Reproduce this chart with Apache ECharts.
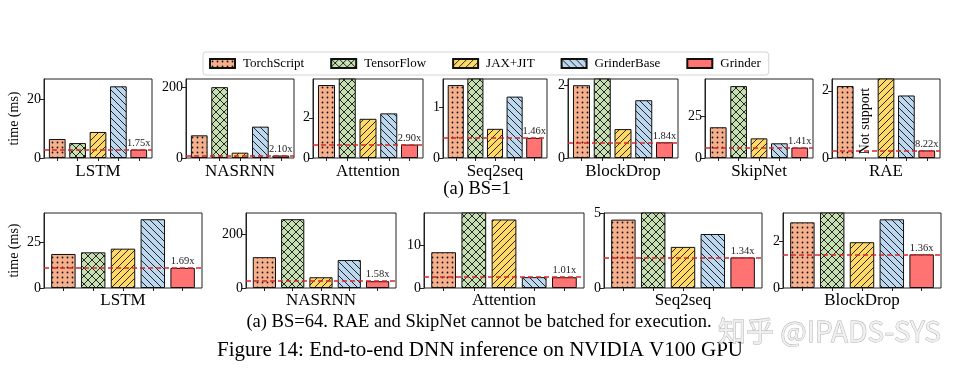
<!DOCTYPE html>
<html>
<head>
<meta charset="utf-8">
<script src="https://cdn.jsdelivr.net/npm/echarts@6/dist/echarts.min.js"></script>
<style>html,body{margin:0;padding:0;background:#fff;}#c{width:978px;height:373px;}</style>
</head>
<body>
<div id="c"></div>
<script>
// ---------- data ----------
const systems = ['TorchScript', 'TensorFlow', 'JAX+JIT', 'GrinderBase', 'Grinder'];

const bs1Models = ['LSTM', 'NASRNN', 'Attention', 'Seq2seq', 'BlockDrop', 'SkipNet', 'RAE'];
const bs1TorchScript = [6.5, 64, 3.63, 1.45, 1.99, 18.6, 2.14];
const bs1TensorFlow = [5.1, 200, 4.6, 1.9, 2.6, 43.5, null];
const bs1JaxJit = [8.9, 15, 1.95, 0.58, 0.79, 11.9, 2.8];
const bs1GrinderBase = [24.5, 88.5, 2.22, 1.22, 1.58, 8.9, 1.86];
const bs1Grinder = [2.9, 7.1, 0.67, 0.40, 0.43, 6.3, 0.226];
const bs1Speedup = ['1.75x', '2.10x', '2.90x', '1.46x', '1.84x', '1.41x', '8.22x'];
const bs1YMax = [27, 223, 3.93, 1.57, 2.16, 47.8, 2.35];
const bs1YTicks = [[0, 20], [0, 200], [0, 2], [0, 1], [0, 2], [0, 25], [0, 2]];

const bs64Models = ['LSTM', 'NASRNN', 'Attention', 'Seq2seq', 'BlockDrop'];
const bs64TorchScript = [18.6, 114.7, 8.3, 4.56, 2.81];
const bs64TensorFlow = [19.5, 256, 21, 6, 3.8];
const bs64JaxJit = [21.5, 40, 15.9, 2.74, 1.96];
const bs64GrinderBase = [37.6, 104, 2.52, 3.6, 2.94];
const bs64Grinder = [11.0, 25.3, 2.5, 2.04, 1.44];
const bs64Speedup = ['1.69x', '1.58x', '1.01x', '1.34x', '1.36x'];
const bs64YMax = [41, 279, 17.4, 5, 3.21];
const bs64YTicks = [[0, 25], [0, 200], [0, 10], [0, 5], [0, 2]];

// ---------- layout ----------
const topLefts = [44, 186, 313, 443, 568, 705, 832];
const topWidths = [108, 108, 110, 104, 110, 108, 108];
const topTop = 79, topHeight = 79;
const botLefts = [44, 246, 424, 604, 783];
const botWidths = [158, 150, 160, 158, 158];
const botTop = 213, botHeight = 75;

const SERIF = 'Liberation Serif';

function makePattern(bg, kind) {
  const s = kind === 'dots' ? 5 : (kind === 'cross' ? 8 : 7);
  const c = document.createElement('canvas');
  c.width = s; c.height = s;
  const g = c.getContext('2d');
  g.fillStyle = bg; g.fillRect(0, 0, s, s);
  g.strokeStyle = '#111'; g.lineWidth = 0.9;
  if (kind === 'dots') {
    g.fillStyle = '#111';
    g.beginPath(); g.arc(s / 2, s / 2, 0.9, 0, Math.PI * 2); g.fill();
  }
  if (kind === 'slash' || kind === 'cross') {
    for (const k of [-s, 0, s]) { g.beginPath(); g.moveTo(k, s); g.lineTo(k + s, 0); g.stroke(); }
  }
  if (kind === 'back' || kind === 'cross') {
    for (const k of [-s, 0, s]) { g.beginPath(); g.moveTo(k, 0); g.lineTo(k + s, s); g.stroke(); }
  }
  return { image: c, repeat: 'repeat' };
}
const fills = [
  makePattern('#f6b08c', 'dots'),
  makePattern('#c6e0b4', 'cross'),
  makePattern('#ffd966', 'slash'),
  makePattern('#bdd7ee', 'back'),
  '#ff7373'
];

const grids = [], xAxes = [], yAxes = [], series = [];

function addPanel(model, vals, speedup, ymax, ticks, left, width, top, height, showYName, nameGap, extra) {
  const idx = grids.length;
  grids.push({ left: left, top: top, width: width, height: height, show: true, borderColor: '#222', borderWidth: 1, containLabel: false });
  xAxes.push({
    type: 'value', gridIndex: idx, min: -0.65, max: 4.65,
    axisLine: { show: false, onZero: false },
    axisTick: { show: true, customValues: [0, 1, 2, 3, 4], length: 3, inside: false, lineStyle: { color: '#222' } },
    axisLabel: { show: false },
    splitLine: { show: false },
    name: model, nameLocation: 'middle', nameGap: nameGap,
    nameTextStyle: { fontFamily: SERIF, fontSize: 17, color: '#000' }
  });
  yAxes.push({
    type: 'value', gridIndex: idx, min: 0, max: ymax,
    axisLine: { show: true, onZero: false, lineStyle: { color: '#222' } },
    axisTick: { show: true, customValues: ticks, length: 4, lineStyle: { color: '#222' } },
    axisLabel: { customValues: ticks, fontFamily: SERIF, fontSize: 14, color: '#000', margin: 3 },
    splitLine: { show: false },
    name: showYName ? 'time (ms)' : '', nameLocation: 'middle', nameRotate: 90, nameGap: 23,
    nameTextStyle: { fontFamily: SERIF, fontSize: 14, color: '#000' }
  });
  const bw = width / 5.3 * 0.82;
  systems.forEach((sys, s) => {
    const ser = {
      type: 'bar', name: sys, xAxisIndex: idx, yAxisIndex: idx, stack: 'panel' + idx,
      data: [[s, vals[s]]], barWidth: bw, animation: false, silent: true,
      itemStyle: { color: fills[s], borderColor: '#111', borderWidth: 1 }
    };
    if (s === 4) {
      ser.label = { show: true, position: 'top', distance: 1, formatter: speedup,
        fontFamily: SERIF, fontSize: 10.5, color: '#222' };
      ser.markLine = { silent: true, symbol: 'none', animation: false,
        data: [{ yAxis: vals[s] }],
        lineStyle: { color: '#d62728', type: [5, 3], width: 1.5 },
        label: { show: false } };
    }
    if (s === 1 && vals[s] === null && extra) {
      ser.markPoint = { symbol: 'rect', symbolSize: 0, animation: false, silent: true,
        data: [{ coord: [1, extra.y] }],
        label: { show: true, formatter: extra.text, rotate: 90, position: 'inside',
          fontFamily: SERIF, fontSize: 14, color: '#000' } };
    }
    series.push(ser);
  });
}

bs1Models.forEach((m, i) => {
  const vals = [bs1TorchScript[i], bs1TensorFlow[i], bs1JaxJit[i], bs1GrinderBase[i], bs1Grinder[i]];
  addPanel(m, vals, bs1Speedup[i], bs1YMax[i], bs1YTicks[i], topLefts[i], topWidths[i], topTop, topHeight, i === 0, 5,
    m === 'RAE' ? { text: 'Not support', y: 1.1 } : null);
});
bs64Models.forEach((m, i) => {
  const vals = [bs64TorchScript[i], bs64TensorFlow[i], bs64JaxJit[i], bs64GrinderBase[i], bs64Grinder[i]];
  addPanel(m, vals, bs64Speedup[i], bs64YMax[i], bs64YTicks[i], botLefts[i], botWidths[i], botTop, botHeight, i === 0, 4, null);
});

const chart = echarts.init(document.getElementById('c'), null, { renderer: 'canvas' });
chart.setOption({
  backgroundColor: '#fff',
  animation: false,
  legend: {
    data: systems, left: 203, top: 52, orient: 'horizontal',
    itemWidth: 25, itemHeight: 9, itemGap: 26,
    padding: [5, 8, 5, 6],
    borderColor: '#d5d5d5', borderWidth: 1, borderRadius: 3,
    icon: 'rect',
    textStyle: { fontFamily: SERIF, fontSize: 13, color: '#000', padding: [0, 0, 0, 3] },
    selectedMode: false
  },
  grid: grids, xAxis: xAxes, yAxis: yAxes, series: series,
  graphic: [
    { type: 'text', x: 477, y: 189, style: { text: '(a) BS=1', font: '18.5px "Liberation Serif"', fill: '#000', align: 'center', verticalAlign: 'middle' } },
    { type: 'text', x: 479, y: 322, style: { text: '(a) BS=64. RAE and SkipNet cannot be batched for execution.', font: '18.5px "Liberation Serif"', fill: '#000', align: 'center', verticalAlign: 'middle' } },
    { type: 'text', x: 480, y: 350, style: { text: 'Figure 14: End-to-end DNN inference on NVIDIA V100 GPU', font: '21px "Liberation Serif"', fill: '#000', align: 'center', verticalAlign: 'middle' } },
    { type: 'text', x: 718, y: 331, z: 10, style: { text: '知乎 @IPADS-SYS', font: '28px "Noto Sans CJK SC"', fill: 'rgba(240,240,240,0.85)', stroke: '#b0b0b0', lineWidth: 0.8, align: 'left', verticalAlign: 'middle' } }
  ]
});
</script>
</body>
</html>
